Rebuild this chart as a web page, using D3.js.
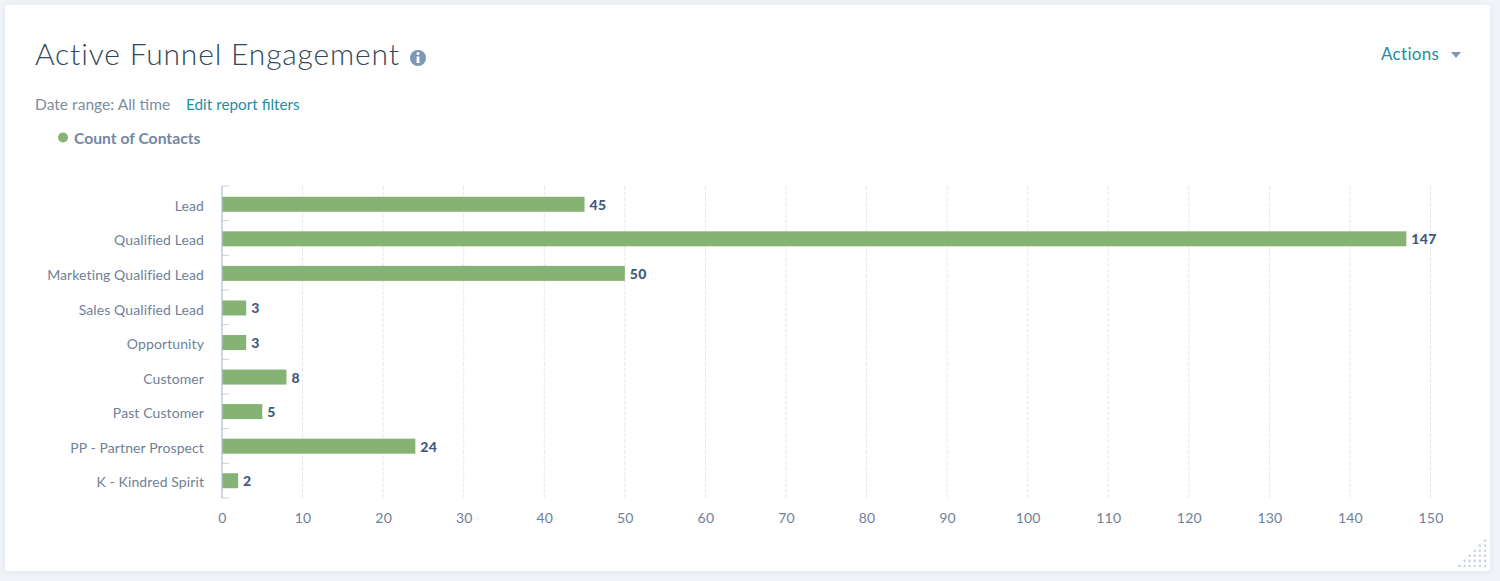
<!DOCTYPE html>
<html><head><meta charset="utf-8">
<script src="https://cdn.jsdelivr.net/npm/d3@7"></script>
<style>
html,body{margin:0;padding:0;background:#f0f3f7;}
svg{display:block;font-family:Lato,"Open Sans",sans-serif;}
</style></head><body>
<svg id="c" width="1500" height="581"></svg>
<script>
const categories=["Lead","Qualified Lead","Marketing Qualified Lead","Sales Qualified Lead","Opportunity","Customer","Past Customer","PP - Partner Prospect","K - Kindred Spirit"];
const counts=[45,147,50,3,3,8,5,24,2];
const xTicks=[0,10,20,30,40,50,60,70,80,90,100,110,120,130,140,150];
const title="Active Funnel Engagement";
const seriesName="Count of Contacts";

const svg=d3.select("#c");
const green="#84b374",slate="#33475b",teal="#1b8fa0";

const defs=svg.append("defs");
const f=defs.append("filter").attr("id","sh").attr("x","-2%").attr("y","-2%").attr("width","104%").attr("height","104%");
f.append("feDropShadow").attr("dx",0).attr("dy",1).attr("stdDeviation",3).attr("flood-color","#cbd6e2").attr("flood-opacity",.45);
svg.append("rect").attr("x",5).attr("y",5).attr("width",1485).attr("height",566).attr("rx",3).attr("fill","#fff").attr("filter","url(#sh)");

svg.append("text").attr("x",35).attr("y",65).attr("font-size",30).attr("font-weight",300).attr("letter-spacing",.83).attr("fill",slate).text(title);
svg.append("circle").attr("cx",418).attr("cy",58).attr("r",8).attr("fill","#7c98b6");
svg.append("circle").attr("cx",418).attr("cy",53.6).attr("r",1.5).attr("fill","#fff");
svg.append("rect").attr("x",416.6).attr("y",56.5).attr("width",2.8).attr("height",6.5).attr("fill","#fff");

svg.append("text").attr("x",1381).attr("y",60).attr("font-size",17).attr("fill",teal).attr("letter-spacing",.3).text("Actions");
svg.append("path").attr("d","M1451 52h10l-5 6z").attr("fill","#7c98b6");

svg.append("text").attr("x",35).attr("y",110).attr("font-size",15.6).attr("fill","#7d8ea3").text("Date range: All time");
svg.append("text").attr("x",186).attr("y",110).attr("font-size",15.3).attr("fill",teal).text("Edit report filters");

svg.append("circle").attr("cx",63).attr("cy",137.5).attr("r",5).attr("fill",green);
svg.append("text").attr("x",74).attr("y",144).attr("font-size",15.7).attr("font-weight",700).attr("fill","#7288a5").text(seriesName);

const x=d3.scaleLinear().domain([0,150]).range([222,1430.5]);
const y=d3.scaleBand().domain(categories).range([187,498]);

const grid=svg.append("g");
grid.selectAll("line").data(xTicks.slice(1)).join("line")
 .attr("x1",d=>x(d)).attr("x2",d=>x(d)).attr("y1",186).attr("y2",498)
 .attr("stroke","#e3e8f0").attr("stroke-width",1).attr("stroke-dasharray","4 1.5");

svg.append("g").selectAll("rect").data(categories).join("rect")
 .attr("x",x(0)).attr("y",d=>y(d)+y.bandwidth()/2-7.5)
 .attr("width",(d,i)=>x(counts[i])-x(0)).attr("height",15).attr("fill",green);

svg.append("g").selectAll("text").data(categories).join("text")
 .attr("x",(d,i)=>x(counts[i])+5).attr("y",d=>y(d)+y.bandwidth()/2+5.5)
 .attr("font-size",14).attr("font-weight",900).attr("fill","#3f5a7e").attr("letter-spacing",.3)
 .text((d,i)=>counts[i]);

// y axis
const yAxis=svg.append("g").attr("transform",`translate(${x(0)},0)`)
 .call(d3.axisLeft(y).tickSize(0).tickPadding(18));
yAxis.select(".domain").remove();
yAxis.selectAll("text").attr("font-family","Lato").attr("font-size",14).attr("fill","#6f8198").attr("dy","0.47em").attr("letter-spacing",.1);
const bandEdges=d3.range(categories.length+1).map(i=>186+i*(312/categories.length));
svg.append("g").selectAll("line").data(bandEdges).join("line")
 .attr("x1",x(0)).attr("x2",x(0)+7).attr("y1",d=>d).attr("y2",d=>d)
 .attr("stroke","#c3cfdd").attr("stroke-width",1);
svg.append("line").attr("x1",x(0)).attr("x2",x(0)).attr("y1",186).attr("y2",498).attr("stroke","#b4c2d3").attr("stroke-width",1.3);

// x axis
const xAxis=svg.append("g").attr("transform","translate(0,498)")
 .call(d3.axisBottom(x).tickValues(xTicks).tickSize(0).tickPadding(15).tickFormat(d3.format("d")));
xAxis.select(".domain").remove();
xAxis.selectAll("text").attr("font-family","Lato").attr("font-size",14).attr("fill","#6f8198").attr("letter-spacing",.2);

// resize grip
[1,2,3,4,5,6].forEach((n,r)=>{
  d3.range(n).forEach(k=>{
    svg.append("circle").attr("cx",1485-k*5.1).attr("cy",566+(r-5)*5.1).attr("r",1.3).attr("fill","#cbd3dd");
  });
});
</script>
</body></html>
